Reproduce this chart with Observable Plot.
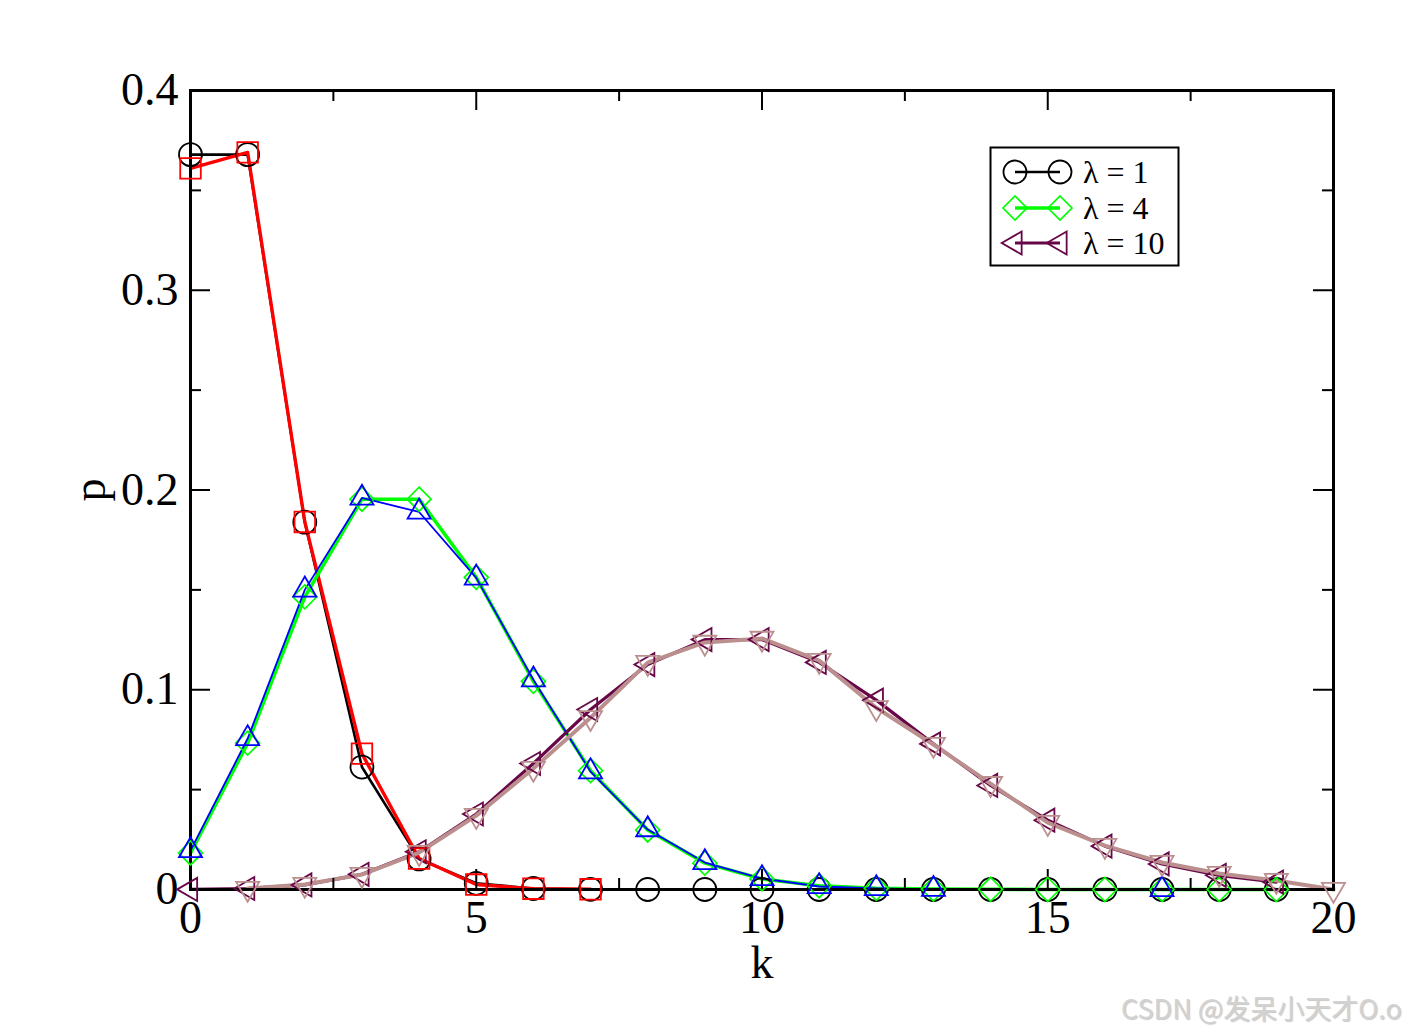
<!DOCTYPE html>
<html>
<head>
<meta charset="utf-8">
<script src="https://cdn.jsdelivr.net/npm/d3@7"></script>
<script src="https://cdn.jsdelivr.net/npm/@observablehq/plot@0.6"></script>
<style>
  body { margin: 0; background: #fff; }
  #wrap { position: relative; width: 1416px; height: 1034px; overflow: hidden; background: #fff; }
  #legend { position: absolute; left: 989px; top: 146px; }
  #wm { position: absolute; left: 1121px; top: 988px; font-family: "Noto Sans CJK SC", "Noto Sans", sans-serif;
        font-size: 27px; color: #d2d2d2; text-shadow: 1px 1px 1px rgba(0,0,0,0.22); white-space: nowrap; }
</style>
</head>
<body>
<div id="wrap"><div id="wm">CSDN @发呆小天才O.o</div></div>
<script>
// ---------------- data ----------------
const kTheory = [0,1,2,3,4,5,6,7,8,9,10,11,12,13,14,15,16,17,18,19];
const pLambda1 = [0.3679,0.3679,0.1839,0.0613,0.0153,0.0031,0.0005,0.0001,0,0,0,0,0,0,0,0,0,0,0,0];
const pLambda4 = [0.0183,0.0733,0.1465,0.1954,0.1954,0.1563,0.1042,0.0595,0.0298,0.0132,0.0053,0.0019,0.0006,0.0002,0.0001,0,0,0,0,0];
const pLambda10 = [0.00005,0.0005,0.0023,0.0076,0.0189,0.0378,0.0631,0.0901,0.1126,0.1251,0.1251,0.1137,0.0948,0.0729,0.0521,0.0347,0.0217,0.0128,0.0071,0.0037];

const kSim1 = [0,1,2,3,4,5,6,7];
const pSim1 = [0.361,0.369,0.184,0.068,0.0155,0.0025,0.0004,0.0001];
const kSim4 = [0,1,2,3,4,5,6,7,8,9,10,11,12,13,17];
const pSim4 = [0.0195,0.0756,0.150,0.196,0.189,0.156,0.105,0.059,0.030,0.0135,0.0055,0.0015,0.0005,0.0001,0];
const kSim10 = [1,2,3,4,5,6,7,8,9,10,11,12,13,14,15,16,17,18,19,20];
const pSim10 = [0.0005,0.0025,0.0075,0.0185,0.037,0.0606,0.086,0.1136,0.1237,0.1257,0.1146,0.091,0.0726,0.053,0.0335,0.022,0.0135,0.008,0.0045,0];

const xMajorTicks = [0,5,10,15,20];
const xMinorTicks = [2.5,7.5,12.5,17.5];
const yMajorTicks = [0,0.1,0.2,0.3,0.4];
const yMinorTicks = [0.05,0.15,0.25,0.35];
const xTickLabels = ["0","5","10","15","20"];
const yTickLabels = ["0","0.1","0.2","0.3","0.4"];
const legendLabels = ["λ = 1","λ = 4","λ = 10"];

// ---------------- styling ----------------
const serif = "'Liberation Serif', 'Times New Roman', serif";
const W = 1416, H = 1034;
const mL = 190, mR = 83, mT = 90, mB = 145;
const FW = W - mL - mR, FH = H - mT - mB;
const majorLen = 20, minorLen = 11;

const series = [
  {k: kTheory, p: pLambda1, stroke: "#000000", lw: 2.6, symbol: "circle", r: 11.5, sw: 1.8, rot: 0},
  {k: kSim1, p: pSim1, stroke: "#ff0000", lw: 3.4, symbol: "square", r: 11.6, sw: 1.8, rot: 0},
  {k: kTheory, p: pLambda4, stroke: "#00ff00", lw: 3.6, symbol: "diamond2", r: 10.8, sw: 1.7, rot: 0},
  {k: kSim4, p: pSim4, stroke: "#0000ff", lw: 1.8, symbol: "triangle2", r: 11, sw: 1.8, rot: 0},
  {k: kTheory, p: pLambda10, stroke: "#670748", lw: 3.2, symbol: "triangle2", r: 11, sw: 1.8, rot: -90},
  {k: kSim10, p: pSim10, stroke: "#bc8f8f", lw: 4.0, symbol: "triangle2", r: 11, sw: 1.8, rot: 180}
];

const rowsOf = s => s.k.map((k, i) => ({k, p: s.p[i]}));
const lineMarks = series.map(s =>
  Plot.line(rowsOf(s), {x: "k", y: "p", stroke: s.stroke, strokeWidth: s.lw, strokeLinejoin: "round"}));
const dotMarks = series.map(s =>
  Plot.dot(rowsOf(s), {x: "k", y: "p", symbol: s.symbol, r: s.r, stroke: s.stroke, strokeWidth: s.sw, fill: "none", rotate: s.rot}));

const tickMarks = [
  [xMajorTicks, majorLen], [xMinorTicks, minorLen]
].flatMap(([t, len]) => [
  Plot.ruleX(t, {x: d => d, insetTop: FH - len, stroke: "black", strokeWidth: 2}),
  Plot.ruleX(t, {x: d => d, insetBottom: FH - len, stroke: "black", strokeWidth: 2})
]).concat([
  [yMajorTicks, majorLen], [yMinorTicks, minorLen]
].flatMap(([t, len]) => [
  Plot.ruleY(t, {y: d => d, insetRight: FW - len, stroke: "black", strokeWidth: 2}),
  Plot.ruleY(t, {y: d => d, insetLeft: FW - len, stroke: "black", strokeWidth: 2})
]));

const chart = Plot.plot({
  width: W, height: H,
  marginLeft: mL, marginRight: mR, marginTop: mT, marginBottom: mB,
  style: {fontFamily: serif, background: "transparent", overflow: "visible"},
  x: {domain: [0, 20]},
  y: {domain: [0, 0.4]},
  marks: [
    ...lineMarks,
    Plot.frame({stroke: "black", strokeWidth: 3}),
    ...tickMarks,
    Plot.axisX(xMajorTicks, {tickSize: 0, tickPadding: 11, fontSize: 46, fontFamily: serif, fill: "black",
      tickFormat: d => xTickLabels[xMajorTicks.indexOf(d)], label: null}),
    Plot.axisY(yMajorTicks, {tickSize: 0, tickPadding: 12, fontSize: 46, fontFamily: serif, fill: "black",
      tickFormat: d => yTickLabels[yMajorTicks.indexOf(d)], label: null}),
    Plot.text(["p"], {frameAnchor: "left", dx: -100, rotate: -90, textAnchor: "middle", lineAnchor: "middle",
      fontSize: 46, fontFamily: serif, fill: "black"}),
    Plot.text(["k"], {frameAnchor: "bottom", dy: 74, textAnchor: "middle", lineAnchor: "middle",
      fontSize: 46, fontFamily: serif, fill: "black"}),
    ...dotMarks
  ]
});
chart.style.position = "absolute";
chart.style.left = "0px";
chart.style.top = "0px";
const wrap = document.getElementById("wrap");
wrap.insertBefore(chart, wrap.firstChild);

// ---------------- legend ----------------
const legSeries = [series[0], series[2], series[4]];
const lg = d3.create("svg").attr("id", "legend").attr("width", 192).attr("height", 122);
lg.append("rect").attr("x", 1.5).attr("y", 1.5).attr("width", 188).attr("height", 118)
  .attr("fill", "white").attr("stroke", "black").attr("stroke-width", 2);
const symMap = {circle: d3.symbolCircle, diamond2: d3.symbolDiamond2, triangle2: d3.symbolTriangle2, square: d3.symbolSquare};
const rowY = [26, 62, 97];
legSeries.forEach((s, i) => {
  const g = lg.append("g").attr("transform", `translate(0,${rowY[i]})`);
  g.append("line").attr("x1", 26).attr("x2", 71).attr("y1", 0).attr("y2", 0)
    .attr("stroke", s.stroke).attr("stroke-width", s.lw);
  const path = d3.symbol(symMap[s.symbol], Math.PI * s.r * s.r)();
  [26, 71].forEach(x => {
    g.append("path").attr("d", path).attr("fill", "none").attr("stroke", s.stroke)
      .attr("stroke-width", s.sw).attr("transform", `translate(${x},0) rotate(${s.rot})`);
  });
  g.append("text").attr("x", 94).attr("y", 0).attr("dy", "0.35em")
    .attr("font-family", serif).attr("font-size", 32).attr("fill", "black").text(legendLabels[i]);
});
wrap.appendChild(lg.node());
</script>
</body>
</html>
